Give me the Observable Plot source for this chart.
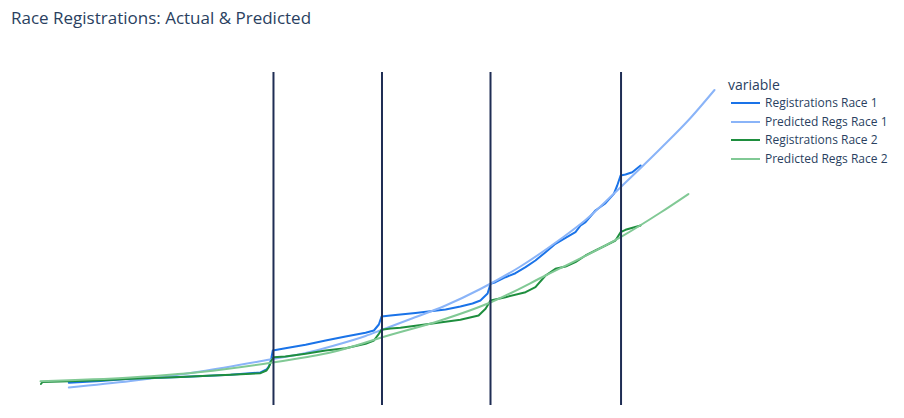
<!DOCTYPE html>
<html>
<head>
<meta charset="utf-8">
<script src="https://cdn.jsdelivr.net/npm/d3@7"></script>
<script src="https://cdn.jsdelivr.net/npm/@observablehq/plot@0.6"></script>
<style>
  html, body { margin: 0; padding: 0; background: #fff; }
  #wrap { position: relative; width: 904px; height: 418px; font-family: "Open Sans", sans-serif; color: #2a3f5f; }
  #title { position: absolute; left: 11px; top: 9px; font-size: 17px; line-height: 17px; white-space: nowrap; }
  #legend { position: absolute; left: 728px; top: 0; }
  #legend .ttl { position: absolute; left: 0; top: 77.5px; font-size: 14px; line-height: 14px; white-space: nowrap; }
  #legend .row { position: absolute; left: 3px; display: flex; align-items: center; height: 12px; font-size: 12px; line-height: 12px; white-space: nowrap; }
  #legend .sw { width: 29px; height: 2px; margin-right: 5px; }
  #chart { position: absolute; left: 0; top: 0; }
</style>
</head>
<body>
<div id="wrap">
  <div id="chart"></div>
  <div id="title">Race Registrations: Actual &amp; Predicted</div>
  <div id="legend"></div>
</div>
<script>
// Series names and colours
const seriesNames = ["Registrations Race 1", "Predicted Regs Race 1", "Registrations Race 2", "Predicted Regs Race 2"];
const seriesColors = ["#1A73E8", "#8AB4F8", "#1E8E3E", "#81C995"];

// Event days (vertical markers)
const eventDays = [103.7, 152.0, 200.3, 258.4];

// Registrations Race 1 (actual): day, registrations
const reg1Days = [12.6, 26.7, 40.1, 62.3, 84.6, 97.9, 100.6, 101.9, 102.8, 103.4, 109.0, 118.0, 126.9, 135.8, 144.7, 148.4, 150.6, 151.8, 155.8, 160.2, 166.9, 173.6, 180.3, 186.9, 192.3, 195.8, 199.0, 200.3, 202.5, 207.0, 211.4, 215.9, 220.3, 224.8, 229.2, 233.7, 238.1, 240.4, 242.6, 247.0, 251.5, 255.2, 256.7, 258.2, 260.4, 263.4, 267.1];
const reg1Vals = [127, 145, 167, 185, 207, 230, 260, 300, 380, 450, 473, 507, 550, 590, 627, 650, 710, 790, 800, 810, 825, 843, 860, 890, 920, 950, 1020, 1117, 1133, 1183, 1223, 1283, 1350, 1433, 1517, 1577, 1633, 1700, 1733, 1850, 1923, 2017, 2100, 2200, 2210, 2233, 2300];

// Predicted Regs Race 1
const pred1Days = [12.6, 40.1, 71.2, 103.3, 118.0, 130.0, 144.7, 151.8, 164.7, 180.3, 195.8, 213.6, 231.5, 242.6, 258.2, 276.0, 289.3, 300.0];
const pred1Vals = [80, 145, 240, 365, 425, 495, 595, 655, 765, 900, 1065, 1290, 1565, 1755, 2083, 2470, 2775, 3055];

// Registrations Race 2 (actual)
const reg2Days = [0.2, 0.9, 8.9, 26.7, 40.1, 62.3, 84.6, 97.9, 100.6, 101.6, 102.8, 103.7, 109.0, 118.0, 126.9, 135.8, 144.7, 148.4, 150.6, 151.8, 155.8, 160.2, 173.6, 186.9, 195.0, 198.1, 200.3, 207.0, 215.9, 220.3, 224.8, 229.2, 233.7, 238.1, 242.6, 247.0, 251.5, 255.9, 258.2, 260.4, 267.1];
const reg2Vals = [115, 135, 140, 153, 167, 185, 207, 223, 250, 283, 350, 383, 390, 417, 450, 473, 517, 550, 617, 657, 670, 677, 717, 757, 800, 867, 950, 983, 1033, 1083, 1200, 1267, 1290, 1333, 1400, 1450, 1500, 1550, 1633, 1657, 1700];

// Predicted Regs Race 2
const pred2Days = [0, 40.1, 71.2, 103.3, 118.0, 130.0, 144.7, 151.8, 178.0, 200.3, 224.8, 258.2, 276.0, 288.4];
const pred2Vals = [143, 180, 235, 330, 383, 435, 530, 580, 750, 930, 1200, 1583, 1830, 2015];

const toRows = (days, vals) => days.map((d, i) => ({day: d, regs: vals[i]}));
const reg1 = toRows(reg1Days, reg1Vals);
const pred1 = toRows(pred1Days, pred1Vals);
const reg2 = toRows(reg2Days, reg2Vals);
const pred2 = toRows(pred2Days, pred2Vals);

const chart = Plot.plot({
  width: 904,
  height: 418,
  marginTop: 72,
  marginBottom: 13,
  marginLeft: 40,
  marginRight: 190,
  x: {domain: [0, 300], axis: null},
  y: {domain: [-100, 3230], axis: null},
  marks: [
    Plot.line(reg1, {x: "day", y: "regs", stroke: seriesColors[0], strokeWidth: 2}),
    Plot.line(pred1, {x: "day", y: "regs", stroke: seriesColors[1], strokeWidth: 2, curve: "monotone-x"}),
    Plot.line(reg2, {x: "day", y: "regs", stroke: seriesColors[2], strokeWidth: 2}),
    Plot.line(pred2, {x: "day", y: "regs", stroke: seriesColors[3], strokeWidth: 2, curve: "monotone-x"}),
    Plot.ruleX(eventDays, {stroke: "#1f2d54", strokeWidth: 2})
  ]
});
document.getElementById("chart").appendChild(chart);

// Legend
const legend = document.getElementById("legend");
const ttl = document.createElement("div");
ttl.className = "ttl";
ttl.textContent = "variable";
legend.appendChild(ttl);
const rowTops = [97.3, 116.3, 134.3, 152.7];
seriesNames.forEach((name, i) => {
  const row = document.createElement("div");
  row.className = "row";
  row.style.top = rowTops[i] + "px";
  const sw = document.createElement("div");
  sw.className = "sw";
  sw.style.background = seriesColors[i];
  const tx = document.createElement("span");
  tx.textContent = name;
  row.appendChild(sw);
  row.appendChild(tx);
  legend.appendChild(row);
});
</script>
</body>
</html>
